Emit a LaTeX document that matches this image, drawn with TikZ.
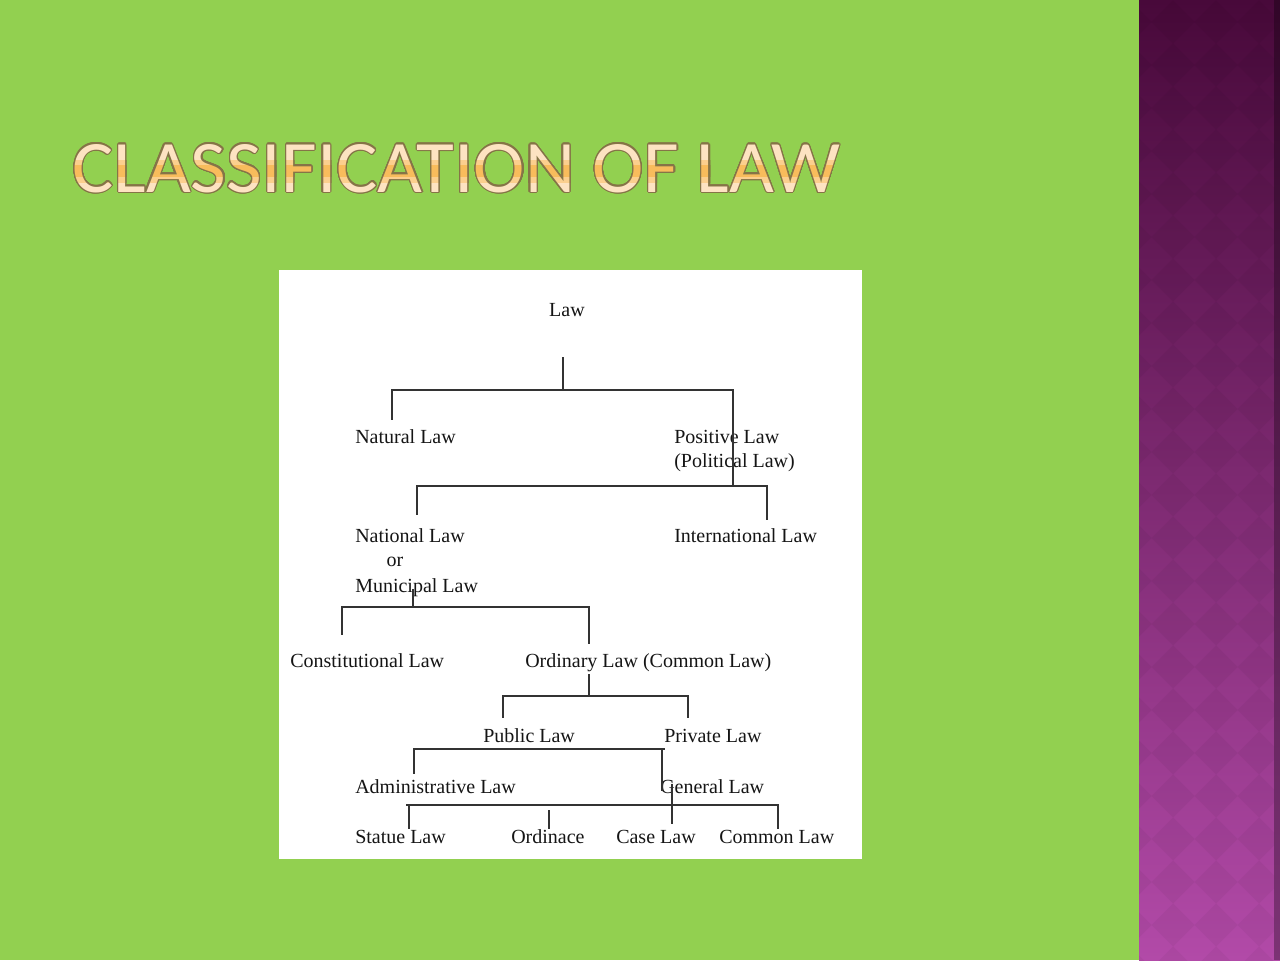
\documentclass[tikz,border=0pt]{standalone}
\usepackage{fontspec}
\setmainfont{Liberation Serif}
\newfontfamily\titlefont{Carlito}
\usepackage{contour}
\contourlength{0.9pt}
\definecolor{bggreen}{HTML}{92D050}
\definecolor{purtop}{HTML}{48093A}
\definecolor{purmid}{HTML}{7C2C72}
\definecolor{purbot}{HTML}{B24AA8}
\definecolor{linegray}{HTML}{333333}
\definecolor{txt}{HTML}{151515}
\definecolor{tcream}{HTML}{FDE3C2}
\definecolor{tmid}{HTML}{FBCF8E}
\definecolor{torange}{HTML}{F8BC5C}
\definecolor{toutline}{HTML}{857447}
\newcommand{\titletext}[1]{\resizebox{576pt}{36pt}{\titlefont\fontsize{56}{60}\selectfont\contour{toutline}{\textcolor{#1}{CLASSIFICATION OF LAW}}}}
\tikzset{
  lbl/.style={inner sep=0pt, text=txt, font=\fontsize{15}{18}\selectfont},
  conn/.style={draw=linegray, line width=1.2pt, line cap=rect},
  ttl/.style={inner sep=0pt, anchor=south west}
}
\begin{document}
\begin{tikzpicture}[x=0.75pt,y=-0.75pt]
\useasboundingbox (0,0) rectangle (1280,960);
% backgrounds
\fill[bggreen] (0,0) rectangle (1139,960);
\shade[top color=purtop, middle color=purmid, bottom color=purbot] (1139,0) rectangle (1280,960);
\begin{scope}
  \clip (1139,0) rectangle (1274,960);
  \foreach \i in {-1,...,22} {
    \foreach \j in {-1,...,3} {
      \pgfmathsetmacro\cx{1173+43*\j}
      \pgfmathsetmacro\cy{65+43*\i}
      \fill[black, opacity=0.04] (\cx,\cy-21.5) -- (\cx+21.5,\cy) -- (\cx,\cy+21.5) -- (\cx-21.5,\cy) -- cycle;
    }
  }
\end{scope}
\fill[black, opacity=0.3] (1274,0) rectangle (1280,960);
% title
\node[ttl] (title) at (72,194) {\titletext{tcream}};
\begin{scope}
  \clip (0,160) rectangle (1280,182);
  \node[ttl] (titleA) at (72,194) {\titletext{tmid}};
\end{scope}
\begin{scope}
  \clip (0,165) rectangle (1280,176);
  \node[ttl] (titleB) at (72,194) {\titletext{torange}};
\end{scope}
% white panel
\fill[white] (279,270) rectangle (862,859);
% labels
\node[lbl, anchor=base] (law) at (567,316) {Law};
\node[lbl, anchor=base west] (natural) at (355,443) {Natural Law};
\node[lbl, anchor=base west] (positive) at (674,443) {Positive Law};
\node[lbl, anchor=base west] (political) at (674,467) {(Political Law)};
\node[lbl, anchor=base west] (national) at (355,542) {National Law};
\node[lbl, anchor=base] (or) at (395,566) {or};
\node[lbl, anchor=base west] (municipal) at (355,592) {Municipal Law};
\node[lbl, anchor=base west] (international) at (674,542) {International Law};
\node[lbl, anchor=base west] (constitutional) at (290,667) {Constitutional Law};
\node[lbl, anchor=base west] (ordinary) at (525,667) {Ordinary Law (Common Law)};
\node[lbl, anchor=base west] (public) at (483,742) {Public Law};
\node[lbl, anchor=base west] (private) at (664,742) {Private Law};
\node[lbl, anchor=base west] (admin) at (355,793) {Administrative Law};
\node[lbl, anchor=base west] (general) at (660,793) {General Law};
\node[lbl, anchor=base west] (statue) at (355,843) {Statue Law};
\node[lbl, anchor=base west] (ordinace) at (511,843) {Ordinace};
\node[lbl, anchor=base west] (case) at (616,843) {Case Law};
\node[lbl, anchor=base west] (common) at (719,843) {Common Law};
% connector end points
\coordinate (lawS) at (563,358);
\coordinate (lawB) at (563,390);
\coordinate (natU) at (392,419);
\coordinate (posD) at (733,486);
\coordinate (nalU) at (417,514);
\coordinate (intU) at (767,519);
\coordinate (munS) at (413,590);
\coordinate (munB) at (413,607);
\coordinate (conU) at (342,634);
\coordinate (ordU) at (589,643);
\coordinate (ordS) at (589,675);
\coordinate (ordB) at (589,696);
\coordinate (pubU) at (503,717);
\coordinate (priU) at (688,717);
\coordinate (admU) at (414,773);
\coordinate (pubB) at (414,749);
\coordinate (genU) at (662,790);
\coordinate (genB) at (664,749);
\coordinate (staU) at (409,828);
\coordinate (comU) at (778,828);
\coordinate (b6) at (407,805);
\coordinate (ordnT) at (549,811);
\coordinate (ordnU) at (549,828);
\coordinate (genS) at (672,785);
\coordinate (caseU) at (672,823);
% connectors
\draw[conn] (lawS) -- (lawB);
\draw[conn] (natU) -- (natU |- lawB) -- (posD |- lawB) -- (posD);
\draw[conn] (nalU) -- (nalU |- posD) -- (intU |- posD) -- (intU);
\draw[conn] (munS) -- (munB);
\draw[conn] (conU) -- (conU |- munB) -- (ordU |- munB) -- (ordU);
\draw[conn] (ordS) -- (ordB);
\draw[conn] (pubU) -- (pubU |- ordB) -- (priU |- ordB) -- (priU);
\draw[conn] (admU) -- (pubB) -- (genB);
\draw[conn] (genU) -- (genU |- pubB);
\draw[conn] (staU) -- (staU |- b6);
\draw[conn] (b6) -- (comU |- b6) -- (comU);
\draw[conn] (ordnT) -- (ordnU);
\draw[conn] (genS) -- (caseU);
\end{tikzpicture}
\end{document}
